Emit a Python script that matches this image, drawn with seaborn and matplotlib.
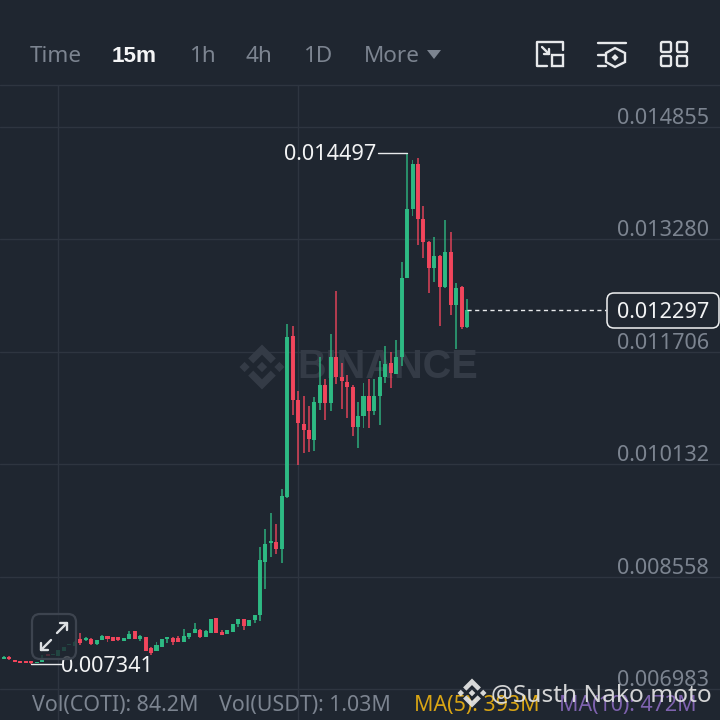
import numpy as np
import pandas as pd
import matplotlib
matplotlib.use("Agg")
import matplotlib.pyplot as plt
from matplotlib import transforms
from matplotlib.patches import Rectangle, FancyBboxPatch, Polygon
import seaborn as sns

# --- data (prices in millionths) ---
opens = [7405,7433,7391,7381,7381,7370,7345,7367,7476,7462,7448,7521,7594,7587,7681,7665,7689,7610,7671,7727,7717,7709,
         7653,7681,7793,7681,7717,7559,7521,7569,7681,7699,7699,7643,7717,7773,7810,7717,7773,7975,7787,7751,7787,7895,
         7961,7871,7951,8021,8767,9033,9043,8945,9678,11928,11032,10696,10612,10472,10994,11238,10986,11630,11358,11284,
         11210,10658,10808,11092,10882,11088,11358,11546,11396,11638,12745,13707,14337,13571,13249,12876,13048,12614,
         13109,12362,12619,12058]
closes = [7433,7398,7359,7353,7353,7345,7360,7409,7448,7472,7531,7573,7615,7643,7625,7695,7610,7665,7733,7681,7661,7665,
          7699,7755,7690,7727,7521,7485,7597,7681,7709,7643,7647,7727,7773,7825,7713,7797,7969,7773,7745,7815,7899,7961,
          7867,7951,8021,8791,9015,9057,8945,9687,11918,11032,10705,10612,10482,11000,11238,10994,11630,11358,11294,11210,
          10658,10808,11092,10882,11088,11358,11536,11406,11638,12745,13707,14337,13571,13249,12876,13048,12619,13109,
          12362,12605,12058,12297]
highs = [7440,7447,7391,7381,7381,7370,7363,7461,7476,7475,7531,7573,7615,7650,7769,7709,7695,7671,7745,7730,7717,7709,
         7699,7801,7793,7737,7717,7573,7647,7690,7709,7709,7727,7825,7773,7905,7821,7805,7969,7975,7815,7815,7899,7965,
         7961,7951,8021,8978,9225,9449,9295,9785,12092,12068,11162,11092,10952,11078,11630,11322,11956,12558,11546,11386,
         11238,11000,11266,11326,11326,11578,11788,11700,11868,12960,14497,14393,14417,13753,13259,13319,13062,13553,
         13380,12670,12633,12442]
lows = [7398,7391,7359,7353,7353,7341,7342,7367,7448,7460,7448,7521,7594,7587,7601,7653,7597,7605,7671,7643,7661,7653,
        7653,7681,7681,7661,7521,7461,7521,7569,7633,7597,7647,7643,7689,7773,7700,7710,7773,7773,7745,7751,7787,7853,
        7815,7871,7905,7933,8389,8829,8880,8745,9664,10822,10122,10294,10308,10322,10892,10756,10882,11252,10902,10784,
        10532,10364,10644,10644,10822,10686,11274,11204,11392,11512,12745,13613,13198,13016,12535,12689,12072,12605,
        12226,11746,12026,12044]
grid_prices = [14855, 13280, 11706, 10132, 8558, 6983]
grid_labels = ["0.014855", "0.013280", "0.011706", "0.010132", "0.008558", "0.006983"]
time_marks = [10, 54]
tabs = ["Time", "15m", "1h", "4h", "1D", "More"]
high_label = "0.014497"
low_label = "0.007341"
last_label = "0.012297"
vol_labels = ["Vol(COTI): 84.2M", "Vol(USDT): 1.03M", "MA(5): 393M", "MA(10): 472M"]

SCALE = 1e-6
BG = "#1F2630"
GRID = "#2E3540"
GREEN = "#2EBD85"
RED = "#F6465D"
MUTED = "#7C8490"
ICON = "#E6E8EA"
FONT = "Noto Sans"
BOLD = "Liberation Sans"

sns.set_theme(style="dark", rc={"axes.facecolor": BG, "figure.facecolor": BG, "font.family": FONT})

df = pd.DataFrame({"i": np.arange(len(opens)),
                   "open": np.array(opens) * SCALE, "close": np.array(closes) * SCALE,
                   "high": np.array(highs) * SCALE, "low": np.array(lows) * SCALE})
df["body_low"] = df[["open", "close"]].min(axis=1)
df["body"] = (df["open"] - df["close"]).abs()
df["wick"] = df["high"] - df["low"]
df["up"] = df["close"] >= df["open"]

fig = plt.figure(figsize=(7.2, 7.2), dpi=100, facecolor=BG)
ax = fig.add_axes([0, 0, 1, 1])
px = transforms.Affine2D().scale(1 / 720, -1 / 720).translate(0, 1) + fig.transFigure

# candles
for up, col in ((True, GREEN), (False, RED)):
    sub = df[df["up"] == up].sort_values("i")
    sns.barplot(data=sub, x="i", y="wick", bottom=sub["low"].values, native_scale=True, orient="x", ax=ax,
                color=col, saturation=1, width=0.36, errorbar=None, linewidth=0, alpha=0.68, zorder=3)
    sns.barplot(data=sub, x="i", y="body", bottom=sub["body_low"].values, native_scale=True, orient="x", ax=ax,
                color=col, saturation=1, width=0.74, errorbar=None, linewidth=0, alpha=0.95, zorder=4)

ax.set_xlim(-0.734, 131.45)
ax.set_ylim(6550.6 * SCALE, 16633.5 * SCALE)
ax.set_xlabel("")
ax.set_ylabel("")
for s in ax.spines.values():
    s.set_visible(False)
ax.set_xticks(time_marks)
ax.set_xticklabels([])
ax.set_yticks(np.array(grid_prices) * SCALE)
ax.set_yticklabels(grid_labels)
ax.grid(True, color=GRID, lw=1.0, zorder=1)
ax.set_axisbelow(True)
ax.tick_params(axis="x", length=0)
ax.tick_params(axis="y", length=0, left=False, labelleft=False, right=False, labelright=True, pad=-74,
               labelsize=15.6, labelcolor=MUTED)
shift_down = transforms.ScaledTranslation(0, -2 / 100, fig.dpi_scale_trans)
for tick in ax.yaxis.get_major_ticks():
    lab = tick.label2
    lab.set_ha("left")
    lab.set_va("bottom")
    lab.set_transform(lab.get_transform() + shift_down)


def logo(cx, cy, size, **kw):
    parts = [
        [(38.73, 53.2), (63.3, 28.62), (87.89, 53.21), (102.19, 38.91), (63.3, 0), (24.43, 38.9)],
        [(0, 63.31), (14.3, 49), (28.6, 63.31), (14.3, 77.6)],
        [(38.73, 73.42), (63.3, 98), (87.89, 73.41), (102.2, 87.7), (63.3, 126.6), (24.43, 87.72)],
        [(98, 63.31), (112.3, 49), (126.6, 63.3), (112.3, 77.6)],
        [(77.83, 63.3), (63.3, 48.76), (48.77, 63.29), (63.3, 77.83)],
    ]
    for p in parts:
        pts = (np.array(p) - 63.3) / 126.6 * size + [cx, cy]
        ax.add_patch(Polygon(pts, closed=True, transform=px, lw=0, clip_on=False, **kw))


def pline(xs, ys, color=ICON, lw=1.7, z=12, **kw):
    ax.plot(xs, ys, color=color, lw=lw, transform=px, zorder=z, clip_on=False, solid_capstyle="round", **kw)


def ptext(x, y, s, color=MUTED, size=15.6, weight="normal", ha="left", z=12, **kw):
    return ax.text(x, y, s, color=color, fontsize=size, fontweight=weight, ha=ha, va="center",
                   transform=px, zorder=z, clip_on=False, **kw)


# watermark behind candles
logo(262, 367, 45, color="#343B46", zorder=2)
ptext(297, 367, "BINANCE", color="#343B46", size=28.6, weight="bold", z=2, family=BOLD)

# high / low / last annotations
hi = int(np.argmax(highs))
lo = int(np.argmin(lows))
last = len(closes) - 1
ax.plot([hi - 5.4, hi], [highs[hi] * SCALE] * 2, color="#E8EAEC", lw=1, zorder=5)
ax.annotate(high_label, xy=(hi - 5.4, highs[hi] * SCALE), xytext=(-1, -2), textcoords="offset pixels",
            ha="right", va="center", color="#F2F3F4", fontsize=15.6, zorder=6)
ax.plot([lo, lo + 5.6], [lows[lo] * SCALE] * 2, color="#E8EAEC", lw=1, zorder=5)
ax.annotate(low_label, xy=(lo + 5.6, lows[lo] * SCALE), xytext=(-1, -3), textcoords="offset pixels",
            ha="left", va="center", color="#F2F3F4", fontsize=15.6, zorder=6)
ax.plot([last, last + 25.5], [closes[last] * SCALE] * 2, color="#E8EAEC", lw=1, ls=(0, (3, 2.5)), zorder=5)
ax.add_patch(FancyBboxPatch((609, 295), 108, 31, boxstyle="round,pad=2,rounding_size=7", transform=px,
                            fc=BG, ec="#F0F1F2", lw=1.1, zorder=6, clip_on=False))
ptext(617, 313, last_label, color="#F2F3F4", z=7)

# header
ax.add_patch(Rectangle((0, 0), 720, 85, transform=px, fc=BG, ec="none", zorder=10, clip_on=False))
pline([0, 720], [85, 85], color=GRID, lw=1.0, z=11)
tab_x = [30, 112, 190, 246, 304, 364]
for t, x in zip(tabs, tab_x):
    if t == "15m":
        ptext(x, 56, t, color="#F4F5F6", size=16.2, weight="bold", family=BOLD)
    else:
        ptext(x, 57, t, size=16.2)
ax.add_patch(Polygon([(427, 50), (441, 50), (434, 59)], closed=True, transform=px, fc=MUTED, ec="none",
                     zorder=12, clip_on=False))

# header icons
pline([547, 537, 537, 563, 563], [66, 66, 42, 42, 50])
ax.add_patch(Rectangle((552, 55), 11, 11, transform=px, fc="none", ec=ICON, lw=1.7, zorder=12, clip_on=False))
pline([542, 549], [47, 54])
pline([544, 549, 549], [54, 54, 49])
pline([598, 626], [43, 43])
pline([598, 606], [55, 55])
pline([598, 606], [66, 66])
hex_x = np.array([615, 625, 625, 615, 606, 606])
hex_y = np.array([48, 53, 62, 67, 62, 53])
ax.add_patch(Polygon(np.c_[hex_x, hex_y], closed=True, transform=px, fc=BG, ec=ICON, lw=1.7, zorder=12, clip_on=False))
ax.add_patch(Polygon([(615, 54), (618.5, 57.5), (615, 61), (611.5, 57.5)], closed=True, transform=px, fc=ICON,
                     ec="none", zorder=13, clip_on=False))
for x0 in (661, 677):
    for y0 in (42, 56):
        ax.add_patch(FancyBboxPatch((x0 + 1, y0 + 1), 8, 8, boxstyle="round,pad=1,rounding_size=1.5", transform=px,
                                    fc="none", ec=ICON, lw=1.7, zorder=12, clip_on=False))

# expand button
ax.add_patch(FancyBboxPatch((38, 620), 32, 33, boxstyle="round,pad=6,rounding_size=8", transform=px,
                            fc=BG, alpha=0.78, ec="none", zorder=8, clip_on=False))
ax.add_patch(FancyBboxPatch((38, 620), 32, 33, boxstyle="round,pad=6,rounding_size=8", transform=px,
                            fc="none", ec="#3D444F", lw=1.6, zorder=9, clip_on=False))
pline([57, 67], [633, 623], color="#DDE0E3", z=10)
pline([60, 67, 67], [623, 623, 630], color="#DDE0E3", z=10)
pline([51, 41], [640, 650], color="#DDE0E3", z=10)
pline([41, 41, 48], [643, 650, 650], color="#DDE0E3", z=10)

# footer
ptext(32, 706, vol_labels[0], size=15.4)
ptext(219, 706, vol_labels[1], size=15.4)
ptext(414, 706, vol_labels[2], color="#D9A514", size=15.4)
ptext(559, 706, vol_labels[3], color="#7E62AE", size=15.4)

# overlay credit
logo(472, 693, 29, color="#E8E8E8", alpha=0.92, zorder=14)
ptext(491, 695, "@Susth Nako moto", color="#E4E4E4", size=17.6, alpha=0.92, z=15)

fig.savefig("out.png", dpi=100, facecolor=BG)
